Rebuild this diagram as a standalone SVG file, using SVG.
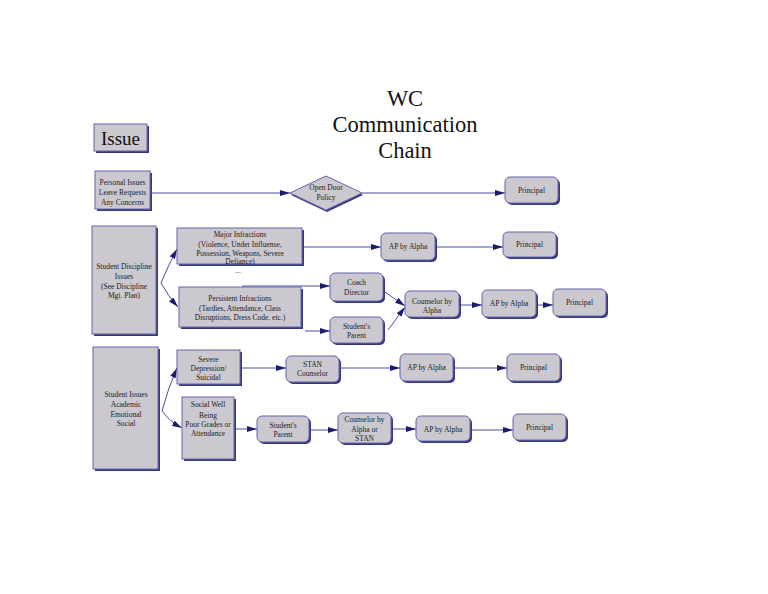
<svg xmlns="http://www.w3.org/2000/svg" width="768" height="594" viewBox="0 0 768 594">
<style>
.sh{fill:#3a3a78}
.bx{fill:#cbc9cf;stroke:#6464ae;stroke-width:1}
.t{font-family:"Liberation Serif","Times New Roman",serif;font-size:7.5px;fill:#1a1a1a;text-anchor:middle}
.title{font-family:"Liberation Serif","Times New Roman",serif;font-size:22.5px;fill:#111;text-anchor:middle}
.c{fill:none;stroke:#4c4ca6;stroke-width:1}
</style>
<defs>
<marker id="a" viewBox="0 0 10 6" refX="10" refY="3" markerWidth="10" markerHeight="6" markerUnits="userSpaceOnUse" orient="auto">
<path d="M0,0 L10,3 L0,6 Z" fill="#1c1c6e"/>
</marker>
</defs>
<rect width="768" height="594" fill="#ffffff"/>
<g id="title">
<text class="title" x="405" y="106">WC</text>
<text class="title" x="405" y="132">Communication</text>
<text class="title" x="405" y="158">Chain</text>
</g>
<g id="issue">
<rect class="sh" x="96" y="126" width="53" height="27"/>
<rect class="bx" x="94" y="124" width="53" height="27"/>
<text x="120.5" y="145" style="font-family:'Liberation Serif',serif;font-size:19px;fill:#111;text-anchor:middle">Issue</text>
</g>
<g id="connectors">
<path class="c" d="M152,193 L290,193" marker-end="url(#a)"/>
<path class="c" d="M362,193 L505,193" marker-end="url(#a)"/>
<path class="c" d="M161,283 Q168,266 177,249" marker-end="url(#a)"/>
<path class="c" d="M161,283 Q168,296 178,307" marker-end="url(#a)"/>
<path class="c" d="M303,247 L381,247" marker-end="url(#a)"/>
<path class="c" d="M436,247 L503,247" marker-end="url(#a)"/>
<path class="c" d="M242,286 L330,286" marker-end="url(#a)"/>
<path class="c" d="M305,331 L330,331" marker-end="url(#a)"/>
<path class="c" d="M385,292 L405,306" marker-end="url(#a)"/>
<path class="c" d="M388,330 L405,307" marker-end="url(#a)"/>
<path class="c" d="M460,305 L482,305" marker-end="url(#a)"/>
<path class="c" d="M537,305 L553,305" marker-end="url(#a)"/>
<path class="c" d="M162,411 Q168,388 177,368" marker-end="url(#a)"/>
<path class="c" d="M162,411 Q169,421 182,428" marker-end="url(#a)"/>
<path class="c" d="M241,368 L286,368" marker-end="url(#a)"/>
<path class="c" d="M340,368 L400,368" marker-end="url(#a)"/>
<path class="c" d="M453,368 L507,368" marker-end="url(#a)"/>
<path class="c" d="M235,429 L257,429" marker-end="url(#a)"/>
<path class="c" d="M310,430 L338,430" marker-end="url(#a)"/>
<path class="c" d="M392,429 L416,429" marker-end="url(#a)"/>
<path class="c" d="M471,430 L513,430" marker-end="url(#a)"/>
</g>
<g id="personal">
<rect class="sh" x="97" y="173" width="55" height="38"/>
<rect class="bx" x="95" y="171" width="55" height="38"/>
<text class="t" x="122.5" y="185">Personal Issues</text>
<text class="t" x="122.5" y="195">Leave Requests</text>
<text class="t" x="122.5" y="205">Any Concerns</text>
</g>
<g id="opendoor">
<polygon class="sh" points="291,195 327,178 363,195 327,212"/>
<polygon class="bx" points="290,193 326,176 362,193 326,210"/>
<text class="t" x="326" y="190">Open Door</text>
<text class="t" x="326" y="200">Policy</text>
</g>
<g id="principal1">
<rect class="sh" x="507" y="179" width="53" height="26" rx="5"/>
<rect class="bx" x="505" y="177" width="53" height="26" rx="5"/>
<text class="t" x="531.5" y="192.5">Principal</text>
</g>
<g id="discipline">
<rect class="sh" x="94" y="228" width="64" height="108"/>
<rect class="bx" x="92" y="226" width="64" height="108"/>
<text class="t" x="124" y="269">Student Discipline</text>
<text class="t" x="124" y="279">Issues</text>
<text class="t" x="124" y="289">(See Discipline</text>
<text class="t" x="124" y="298">Mgt. Plan)</text>
</g>
<g id="major">
<rect class="sh" x="179" y="230" width="125" height="36"/>
<rect class="bx" x="177" y="228" width="125" height="36"/>
<text class="t" x="240" y="237">Major Infractions</text>
<text class="t" x="240" y="246.5">(Violence, Under Influense,</text>
<text class="t" x="240" y="255.5">Possession, Weapons, Severe</text>
<text class="t" x="240" y="264">Defiance)</text>
<text class="t" x="238" y="273">...</text>
</g>
<g id="persistent">
<rect class="sh" x="181" y="289" width="122" height="40"/>
<rect class="bx" x="179" y="287" width="122" height="40"/>
<text class="t" x="240" y="301">Persistent Infractions</text>
<text class="t" x="240" y="311">(Tardies, Attendance, Class</text>
<text class="t" x="240" y="320">Disruptions, Dress Code, etc.)</text>
</g>
<g id="ap1">
<rect class="sh" x="383" y="235" width="54" height="27" rx="5"/>
<rect class="bx" x="381" y="233" width="54" height="27" rx="5"/>
<text class="t" x="408" y="249">AP by Alpha</text>
</g>
<g id="principal2">
<rect class="sh" x="505" y="234" width="53" height="25" rx="5"/>
<rect class="bx" x="503" y="232" width="53" height="25" rx="5"/>
<text class="t" x="529.5" y="247">Principal</text>
</g>
<g id="coach">
<rect class="sh" x="332" y="275" width="53" height="28" rx="5"/>
<rect class="bx" x="330" y="273" width="53" height="28" rx="5"/>
<text class="t" x="356.5" y="285">Coach</text>
<text class="t" x="356.5" y="295">Director</text>
</g>
<g id="parent1">
<rect class="sh" x="332" y="319" width="53" height="26" rx="5"/>
<rect class="bx" x="330" y="317" width="53" height="26" rx="5"/>
<text class="t" x="356.5" y="329">Student's</text>
<text class="t" x="356.5" y="338">Parent</text>
</g>
<g id="counselor1">
<rect class="sh" x="407" y="293" width="54" height="26" rx="5"/>
<rect class="bx" x="405" y="291" width="54" height="26" rx="5"/>
<text class="t" x="432" y="304">Counselor by</text>
<text class="t" x="432" y="313">Alpha</text>
</g>
<g id="ap2">
<rect class="sh" x="484" y="292" width="54" height="27" rx="5"/>
<rect class="bx" x="482" y="290" width="54" height="27" rx="5"/>
<text class="t" x="509" y="306">AP by Alpha</text>
</g>
<g id="principal3">
<rect class="sh" x="555" y="291" width="53" height="27" rx="5"/>
<rect class="bx" x="553" y="289" width="53" height="27" rx="5"/>
<text class="t" x="579.5" y="305">Principal</text>
</g>
<g id="studentissues">
<rect class="sh" x="95" y="349" width="65" height="122"/>
<rect class="bx" x="93" y="347" width="65" height="122"/>
<text class="t" x="126" y="397">Student Issues</text>
<text class="t" x="126" y="407">Academic</text>
<text class="t" x="126" y="417">Emotional</text>
<text class="t" x="126" y="426">Social</text>
</g>
<g id="severe">
<rect class="sh" x="179" y="352" width="63" height="34"/>
<rect class="bx" x="177" y="350" width="63" height="34"/>
<text class="t" x="208.5" y="362">Severe</text>
<text class="t" x="208.5" y="371">Depression/</text>
<text class="t" x="208.5" y="380">Suicidal</text>
</g>
<g id="social">
<rect class="sh" x="184" y="399" width="52" height="62"/>
<rect class="bx" x="182" y="397" width="52" height="62"/>
<text class="t" x="208" y="407">Social Well</text>
<text class="t" x="208" y="418">Being</text>
<text class="t" x="208" y="427">Poor Grades or</text>
<text class="t" x="208" y="436">Attendance</text>
</g>
<g id="stan">
<rect class="sh" x="288" y="358" width="53" height="26" rx="5"/>
<rect class="bx" x="286" y="356" width="53" height="26" rx="5"/>
<text class="t" x="312.5" y="367">STAN</text>
<text class="t" x="312.5" y="376">Counselor</text>
</g>
<g id="ap3">
<rect class="sh" x="402" y="356" width="53" height="27" rx="5"/>
<rect class="bx" x="400" y="354" width="53" height="27" rx="5"/>
<text class="t" x="426.5" y="370">AP by Alpha</text>
</g>
<g id="principal4">
<rect class="sh" x="509" y="356" width="53" height="27" rx="5"/>
<rect class="bx" x="507" y="354" width="53" height="27" rx="5"/>
<text class="t" x="533.5" y="370">Principal</text>
</g>
<g id="parent2">
<rect class="sh" x="259" y="418" width="52" height="26" rx="5"/>
<rect class="bx" x="257" y="416" width="52" height="26" rx="5"/>
<text class="t" x="283" y="428">Student's</text>
<text class="t" x="283" y="437">Parent</text>
</g>
<g id="counselor2">
<rect class="sh" x="340" y="415" width="53" height="30" rx="5"/>
<rect class="bx" x="338" y="413" width="53" height="30" rx="5"/>
<text class="t" x="364.5" y="422">Counselor by</text>
<text class="t" x="364.5" y="432">Alpha or</text>
<text class="t" x="364.5" y="441">STAN</text>
</g>
<g id="ap4">
<rect class="sh" x="418" y="418" width="54" height="25" rx="5"/>
<rect class="bx" x="416" y="416" width="54" height="25" rx="5"/>
<text class="t" x="443" y="431.5">AP by Alpha</text>
</g>
<g id="principal5">
<rect class="sh" x="515" y="416" width="53" height="26" rx="5"/>
<rect class="bx" x="513" y="414" width="53" height="26" rx="5"/>
<text class="t" x="539.5" y="430">Principal</text>
</g>
</svg>
